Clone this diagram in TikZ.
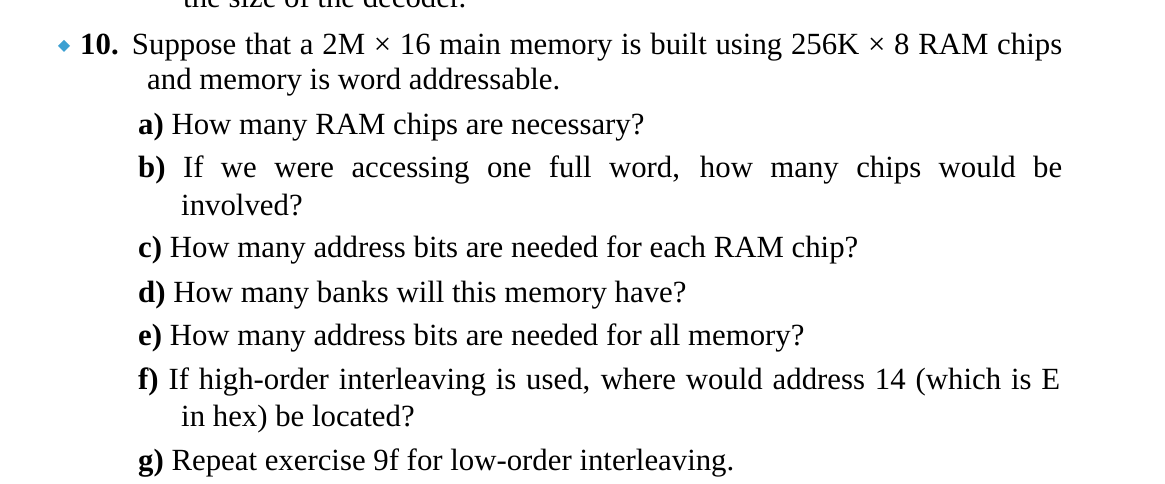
\documentclass[tikz,border=0pt]{standalone}
\usepackage{fontspec}
\setmainfont{Liberation Serif}
\definecolor{bul}{RGB}{60,160,210}
\begin{document}
\begin{tikzpicture}[x=1pt,y=-1pt,
  t/.style={anchor=base west,inner sep=0pt,font=\fontsize{30.8}{36}\selectfont}]
\useasboundingbox (0,0) rectangle (1165,484);
\begin{scope}
\clip (0,0) rectangle (1165,484);
\node[t] (top) at (183,8) {the size of the decoder.};
\end{scope}
\fill[bul] (64,40)--(70,46)--(64,52)--(58,46)--cycle;
\node[t] (l1) at (80,55) {\hbox to 982pt{\textbf{10.} Suppose that a 2M × 16 main memory is built using 256K × 8 RAM chips}};
\node[t] (l2) at (147,90) {and memory is word addressable.};
\node[t] (la) at (138,135) {\textbf{a)} How many RAM chips are necessary?};
\node[t] (lb) at (138,178) {\hbox to 924pt{\textbf{b)} If we were accessing one full word, how many chips would be}};
\node[t] (lb2) at (181,215) {involved?};
\node[t] (lc) at (138,257) {\textbf{c)} How many address bits are needed for each RAM chip?};
\node[t] (ld) at (138,302) {\textbf{d)} How many banks will this memory have?};
\node[t] (le) at (138,345) {\textbf{e)} How many address bits are needed for all memory?};
\node[t] (lf) at (138,389) {\hbox to 922pt{\textbf{f)} If high-order interleaving is used, where would address 14 (which is E}};
\node[t] (lf2) at (181,426) {in hex) be located?};
\node[t] (lg) at (138,470) {\textbf{g)} Repeat exercise 9f for low-order interleaving.};
\end{tikzpicture}
\end{document}
